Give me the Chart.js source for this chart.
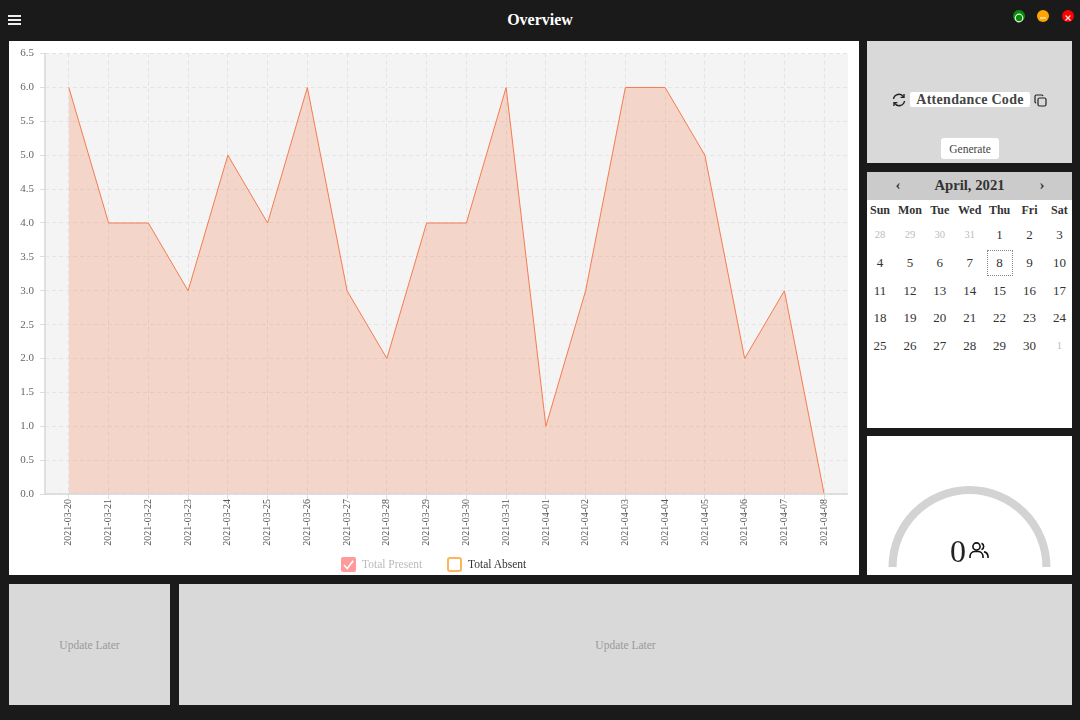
<!DOCTYPE html>
<html>
<head>
<meta charset="utf-8">
<title>Overview</title>
<script src="https://cdn.jsdelivr.net/npm/chart.js@4"></script>
<style>
  html, body { margin: 0; padding: 0; }
  body { width: 1080px; height: 720px; background: #1a1a1a; overflow: hidden; position: relative; font-family: "Liberation Serif", serif; }
  .box { position: absolute; box-sizing: border-box; }
  .panel { background: #fff; }
  .grey { background: #d9d9d9; }
  .title { left: 0; top: 10px; width: 1080px; text-align: center; color: #fff; font-weight: bold; font-size: 16px; line-height: 20px; }
  .burger { left: 8px; top: 15px; width: 13px; height: 2px; background: #eee; box-shadow: 0 4px 0 #eee, 0 8px 0 #eee; }
  .dot { width: 12px; height: 12px; top: 10px; border-radius: 50%; }
  .later { display: flex; align-items: center; justify-content: center; color: #999; font-size: 11.5px; }
  .code { left: 910px; top: 92px; width: 120px; height: 15px; background: #fff; border-radius: 2px; text-align: center; font-weight: bold; font-size: 14px; line-height: 15px; color: #444; letter-spacing: .3px; }
  .gen { left: 941px; top: 138px; width: 58px; height: 21px; background: #fff; border-radius: 3px; text-align: center; font-size: 11.5px; line-height: 23px; color: #444; }
  .calhead { left: 867px; top: 172px; width: 205px; height: 28px; background: #cbcbcb; text-align: center; font-weight: bold; font-size: 14.7px; line-height: 26px; color: #333; }
  .cell { width: 30px; text-align: center; }
  .wd { top: 203px; font-weight: bold; font-size: 12px; line-height: 14px; color: #333; }
  .day { font-size: 13px; line-height: 16px; color: #333; }
  .day.off { font-size: 10.5px; color: #bbb; }
  .today { left: 987px; top: 250px; width: 26px; height: 26px; border: 1px dotted #888; }
  .legend { font-size: 11.5px; line-height: 16px; top: 556px; }
</style>
</head>
<body>
  <div class="box title">Overview</div>
  <div class="box burger"></div>
  <div class="box dot" style="left:1013px;background:#0a8a0a;">
    <svg width="12" height="12"><circle cx="6" cy="6" r="3.8" fill="none" stroke="#dff3df" stroke-width="1.2"/></svg>
  </div>
  <div class="box dot" style="left:1037px;background:#ffa500;">
    <svg width="12" height="12"><path d="M3 6H9" stroke="#fff3d8" stroke-width="1.2"/></svg>
  </div>
  <div class="box dot" style="left:1062px;background:#f00;">
    <svg width="12" height="12"><path d="M3.5 3.5L8.5 8.5M8.5 3.5L3.5 8.5" stroke="#ffe0e0" stroke-width="1.2"/></svg>
  </div>

  <div class="box panel" style="left:9px;top:41px;width:850px;height:534px;">
    <canvas id="chart-attendance" width="850" height="534" style="display:block;width:850px;height:534px;"></canvas>
  </div>
  <div class="box" style="left:341px;top:557px;width:15px;height:15px;background:#ff9a9a;border-radius:2px;">
    <svg width="15" height="15"><path d="M3 8L6.2 11.5L12.2 3.8" fill="none" stroke="#fff" stroke-width="1.6"/></svg>
  </div>
  <div class="box legend" id="legend-present" style="left:362px;color:#bbb;"></div>
  <div class="box" style="left:447px;top:557px;width:15px;height:15px;border:2px solid #fdb45c;border-radius:3px;"></div>
  <div class="box legend" id="legend-absent" style="left:468px;color:#333;"></div>

  <div class="box grey" style="left:867px;top:41px;width:205px;height:122px;"></div>
  <svg class="box" style="left:892px;top:93px;" width="14" height="14" viewBox="0 0 14 14" fill="none" stroke="#222" stroke-width="1.4">
    <path d="M1.5 6A5.5 5.5 0 0 1 11.5 3.8M12.5 8A5.5 5.5 0 0 1 2.5 10.2"/>
    <path d="M12 1V4.4H8.6M2 13V9.6H5.4"/>
  </svg>
  <div class="box code">Attendance Code</div>
  <svg class="box" style="left:1034px;top:94px;" width="13" height="13" viewBox="0 0 13 13" fill="none" stroke="#222" stroke-width="1.2">
    <rect x="4" y="4" width="8" height="8" rx="1.5"/>
    <path d="M9 2.2A1.4 1.4 0 0 0 7.8 1H2.4A1.4 1.4 0 0 0 1 2.4V7.8A1.4 1.4 0 0 0 2.2 9"/>
  </svg>
  <div class="box gen">Generate</div>

  <div class="box panel" style="left:867px;top:172px;width:205px;height:256px;"></div>
  <div class="box calhead" id="cal-title"></div>
  <div class="box" style="left:888px;top:172px;width:20px;text-align:center;font-size:15px;line-height:26px;color:#333;font-weight:bold;">‹</div>
  <div class="box" style="left:1032px;top:172px;width:20px;text-align:center;font-size:15px;line-height:26px;color:#333;font-weight:bold;">›</div>
  <div class="box today"></div>
  <div id="calendar"></div>

  <div class="box panel" style="left:867px;top:436px;width:205px;height:139px;"></div>
  <div class="box" style="left:888px;top:486px;width:163px;height:81px;">
    <canvas id="chart-gauge" width="163" height="81" style="display:block;width:163px;height:81px;"></canvas>
  </div>
  <div class="box" id="gauge-value" style="left:943px;top:532px;width:30px;text-align:center;font-size:32px;line-height:38px;color:#222;"></div>
  <svg class="box" style="left:969px;top:541px;" width="20" height="19" viewBox="0 0 20 19" fill="none" stroke="#111" stroke-width="1.6">
    <circle cx="7.5" cy="5.5" r="3.6"/>
    <path d="M1 17V15A5 5 0 0 1 6 10.5H9A5 5 0 0 1 14 15V17"/>
    <path d="M12.5 2.2A3.6 3.6 0 0 1 12.5 8.8M15 10.8A5 5 0 0 1 19 15V17"/>
  </svg>

  <div class="box grey later" id="later-left" style="left:9px;top:584px;width:161px;height:121px;"></div>
  <div class="box grey later" id="later-right" style="left:179px;top:584px;width:893px;height:121px;"></div>

<script>
const DATES = [
  '2021-03-20','2021-03-21','2021-03-22','2021-03-23','2021-03-24',
  '2021-03-25','2021-03-26','2021-03-27','2021-03-28','2021-03-29',
  '2021-03-30','2021-03-31','2021-04-01','2021-04-02','2021-04-03',
  '2021-04-04','2021-04-05','2021-04-06','2021-04-07','2021-04-08'
];
const TOTALS = [6, 4, 4, 3, 5, 4, 6, 3, 2, 4, 4, 6, 1, 3, 6, 6, 5, 2, 3, 0];
const LEGEND_LABELS = ['Total Present', 'Total Absent'];
const WEEK_DAYS = ['Sun', 'Mon', 'Tue', 'Wed', 'Thu', 'Fri', 'Sat'];
const CAL_DAYS = [
  28, 29, 30, 31, 1, 2, 3,
  4, 5, 6, 7, 8, 9, 10,
  11, 12, 13, 14, 15, 16, 17,
  18, 19, 20, 21, 22, 23, 24,
  25, 26, 27, 28, 29, 30, 1
];
const CAL_TITLE = 'April, 2021';
const GAUGE_VALUE = 0;
const GAUGE_TRACK = [1];
const PLACEHOLDER = 'Update Later';

const FONT = 'Liberation Serif';

/* ---- Plot background and solid axis lines ---- */
const plotFrame = {
  id: 'plotFrame',
  beforeDraw(chart) {
    const { ctx, chartArea: a } = chart;
    ctx.save();
    ctx.fillStyle = '#f4f4f4';
    ctx.fillRect(a.left, a.top, a.right - a.left, a.bottom - a.top);
    ctx.restore();
  },
  afterDraw(chart) {
    const { ctx, chartArea: a } = chart;
    ctx.save();
    ctx.strokeStyle = '#d8d8d8';
    ctx.lineWidth = 1.5;
    ctx.beginPath();
    ctx.moveTo(a.left, a.top);
    ctx.lineTo(a.left, a.bottom);
    ctx.lineTo(a.right, a.bottom);
    ctx.stroke();
    ctx.restore();
  }
};

/* ---- Main area chart ---- */
function renderAttendanceChart() {
  new Chart(document.getElementById('chart-attendance'), {
    type: 'line',
    data: {
      datasets: [{
        label: LEGEND_LABELS[1],
        data: TOTALS.map((y, i) => ({ x: i, y })),
        borderColor: '#f47c50',
        backgroundColor: 'rgba(240, 130, 90, 0.27)',
        borderWidth: 1,
        pointRadius: 0,
        tension: 0,
        fill: 'origin'
      }]
    },
    options: {
      responsive: false,
      animation: false,
      layout: { padding: { top: 12, right: 11, left: 0, bottom: 0 } },
      plugins: { legend: { display: false }, tooltip: { enabled: false } },
      scales: {
        x: {
          type: 'linear',
          min: -0.6,
          max: DATES.length - 0.4,
          afterBuildTicks: axis => { axis.ticks = DATES.map((_, i) => ({ value: i })); },
          afterFit: axis => { axis.height = 81; },
          ticks: {
            autoSkip: false,
            minRotation: 90,
            maxRotation: 90,
            color: '#555',
            padding: 0,
            font: { family: FONT, size: 10 },
            callback: v => DATES[v]
          },
          grid: { color: '#e4e4e4', tickLength: 5, tickColor: '#ddd' },
          border: { display: false, dash: [4, 3] }
        },
        y: {
          min: 0,
          max: 6.5,
          afterFit: axis => { axis.width = 36; },
          ticks: {
            stepSize: 0.5,
            color: '#666',
            padding: 6,
            font: { family: FONT, size: 11 },
            callback: v => v.toFixed(1)
          },
          grid: { color: '#e4e4e4', tickLength: 5, tickColor: '#ddd' },
          border: { display: false, dash: [4, 3] }
        }
      }
    },
    plugins: [plotFrame]
  });
}

/* ---- Half circle gauge ---- */
function renderGauge() {
  new Chart(document.getElementById('chart-gauge'), {
    type: 'doughnut',
    data: {
      datasets: [{
        data: GAUGE_TRACK,
        backgroundColor: '#d3d3d3',
        borderWidth: 0
      }]
    },
    options: {
      responsive: false,
      animation: false,
      rotation: -90,
      circumference: 180,
      cutout: '90%',
      layout: { padding: 0 },
      plugins: { legend: { display: false }, tooltip: { enabled: false } }
    }
  });
  document.getElementById('gauge-value').textContent = GAUGE_VALUE;
}

/* ---- Calendar ---- */
function renderCalendar() {
  const rowTops = [227, 255, 283, 310, 338];
  const colLeft = i => 865 + i * 29.9;
  let html = WEEK_DAYS.map((d, i) =>
    `<div class="box cell wd" style="left:${colLeft(i)}px">${d}</div>`).join('');
  html += CAL_DAYS.map((d, i) => {
    const off = i < 4 || i === CAL_DAYS.length - 1;
    const row = Math.floor(i / 7);
    return `<div class="box cell day${off ? ' off' : ''}" style="left:${colLeft(i % 7)}px;top:${rowTops[row]}px">${d}</div>`;
  }).join('');
  document.getElementById('calendar').innerHTML = html;
  document.getElementById('cal-title').textContent = CAL_TITLE;
}

document.getElementById('legend-present').textContent = LEGEND_LABELS[0];
document.getElementById('legend-absent').textContent = LEGEND_LABELS[1];
document.getElementById('later-left').textContent = PLACEHOLDER;
document.getElementById('later-right').textContent = PLACEHOLDER;

renderAttendanceChart();
renderGauge();
renderCalendar();
</script>
</body>
</html>
